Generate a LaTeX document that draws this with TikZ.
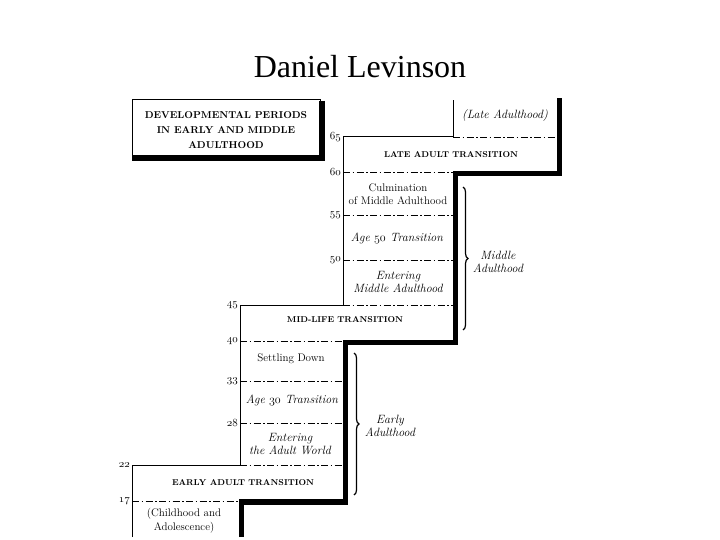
\documentclass[tikz,border=0pt]{standalone}
\usepackage{fontspec}
\newfontfamily\titlefont{Liberation Serif}
\usetikzlibrary{decorations.pathreplacing}
\newcommand{\osn}[1]{{\usefont{OML}{cmm}{m}{it}#1}}
\begin{document}
\begin{tikzpicture}[x=1pt,y=-1pt,
  thinline/.style={line width=1pt},
  dashdot/.style={line width=0.9pt,dash pattern=on 7pt off 2.5pt on 1.5pt off 2.5pt},
  shadowline/.style={line width=5.5pt,line join=miter},
  agelabel/.style={anchor=east,inner sep=1pt,font=\fontsize{11}{11}\selectfont},
  body/.style={inner sep=0pt,align=center,font=\fontsize{11}{13.5}\selectfont\addfontfeatures{FakeBold=1.8}},
  bodyit/.style={inner sep=0pt,align=center,font=\fontsize{12}{13.5}\selectfont\itshape\addfontfeatures{FakeBold=1.8}},
  caps/.style={inner sep=0pt,font=\fontsize{8.5}{8.5}\selectfont\bfseries\addfontfeatures{LetterSpace=6,FakeBold=0.5}},
  bracket/.style={decorate,decoration={brace,amplitude=5pt},line width=1.2pt}
]
\useasboundingbox (0,0) rectangle (720,540);
\def\xA{132}\def\xB{240}\def\xC{343}\def\xD{453}\def\xE{558}

% title
\node[inner sep=0pt,anchor=base,font=\titlefont\fontsize{32}{32}\selectfont] (title) at (360,78) {Daniel Levinson};

% heading box
\draw[thinline] (132,100) rectangle (320,156);
\draw[shadowline] (322,101) -- (322,158.5) -- (132,158.5);
\node[inner sep=0pt,align=center,font=\fontsize{10}{15}\selectfont\bfseries\addfontfeatures{LetterSpace=6,FakeBold=0.5}] (heading) at (226,130)
  {DEVELOPMENTAL PERIODS\\IN EARLY AND MIDDLE\\ADULTHOOD};

% thin left edges
\draw[thinline] (\xA,537) -- (\xA,465) -- (\xB,465);
\draw[thinline] (\xB,465) -- (\xB,305) -- (\xC,305);
\draw[thinline] (\xC,305) -- (\xC,137) -- (\xD,137);
\draw[thinline] (\xD,137) -- (\xD,100);

% heavy right/bottom edges
\draw[shadowline] (241.5,537) -- (241.5,502) -- (345.5,502) -- (345.5,342.5)
  -- (455.5,342.5) -- (455.5,173.5) -- (559.5,173.5) -- (559.5,98);

% dash-dot boundaries
\draw[dashdot] (\xA,501) -- (\xB,501);
\draw[dashdot] (\xB,465) -- (\xC,465);
\draw[dashdot] (\xB,423) -- (\xC,423);
\draw[dashdot] (\xB,381) -- (\xC,381);
\draw[dashdot] (\xB,341) -- (\xC,341);
\draw[dashdot] (\xC,305) -- (\xD,305);
\draw[dashdot] (\xC,260) -- (\xD,260);
\draw[dashdot] (\xC,215) -- (\xD,215);
\draw[dashdot] (\xC,172) -- (\xD,172);
\draw[dashdot] (\xD,137) -- (\xE,137);

% age labels
\node[agelabel] (a65) at (\xC-1,137) {\osn{65}};
\node[agelabel] (a60) at (\xC-1,172) {\osn{60}};
\node[agelabel] (a55) at (\xC-1,215) {\osn{55}};
\node[agelabel] (a50) at (\xC-1,260) {\osn{50}};
\node[agelabel] (a45) at (\xB-1,305) {\osn{45}};
\node[agelabel] (a40) at (\xB-1,341) {\osn{40}};
\node[agelabel] (a33) at (\xB-1,381) {\osn{33}};
\node[agelabel] (a28) at (\xB-1,423) {\osn{28}};
\node[agelabel] (a22) at (\xA-1,465) {\osn{22}};
\node[agelabel] (a17) at (\xA-1,501) {\osn{17}};

% period texts
\node[bodyit] (late) at (505,116) {(Late Adulthood)};
\node[caps] (lat) at (451,155) {LATE ADULT TRANSITION};
\node[body] (culm) at (398,194) {Culmination\\of Middle Adulthood};
\node[bodyit] (age50) at (397,238) {Age \osn{50} Transition};
\node[bodyit] (emid) at (398,282) {Entering\\Middle Adulthood};
\node[caps] (mlt) at (345,320) {MID-LIFE TRANSITION};
\node[body] (settle) at (291,359) {Settling Down};
\node[bodyit] (age30) at (292,400) {Age \osn{30} Transition};
\node[bodyit] (eadult) at (290,444) {Entering\\the Adult World};
\node[caps] (eat) at (243,483) {EARLY ADULT TRANSITION};
\node[body] (child) at (184,521) {(Childhood and\\Adolescence)};

% braces
\draw[bracket] (463,187) -- (463,330);
\node[bodyit] (midad) at (498,262) {Middle\\Adulthood};
\draw[bracket] (354,353) -- (354,495);
\node[bodyit] (earlyad) at (390,426) {Early\\Adulthood};
\end{tikzpicture}
\end{document}
